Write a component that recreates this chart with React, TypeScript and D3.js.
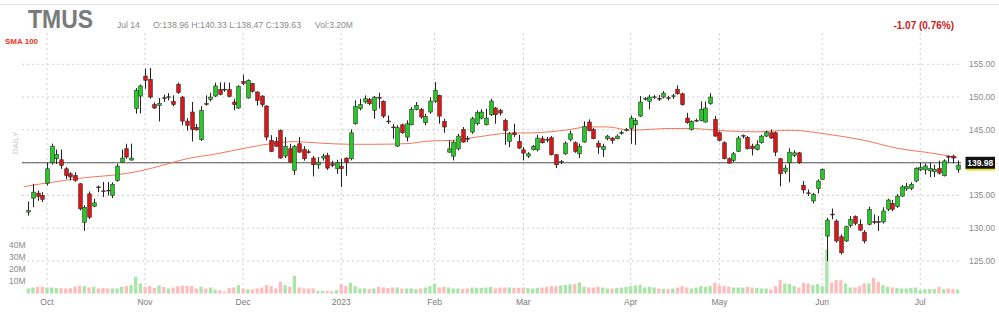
import React from 'react';
import * as d3 from 'd3';

const opens = [132.45,134.58,135.35,135.0,136.85,139.98,140.6,140.44,139.06,138.3,138.04,136.77,130.9,135.24,133.36,136.3,135.7,135.8,135.0,137.28,140.08,142.12,140.4,148.23,150.16,153.2,152.7,148.84,148.74,149.9,150.0,149.35,151.94,150.0,146.34,147.72,145.4,143.5,149.0,149.65,150.16,151.13,151.2,151.13,149.25,148.33,152.4,149.86,152.05,150.77,150.16,148.64,143.4,143.24,144.9,141.0,142.12,138.8,142.88,142.0,141.65,140.7,139.67,140.7,141.1,139.83,139.06,139.4,140.7,140.59,145.94,148.23,149.25,149.65,147.97,149.95,149.35,146.35,145.45,142.53,145.78,143.9,145.78,148.13,148.13,146.09,147.72,149.35,150.26,146.3,141.6,140.99,142.1,145.07,143.7,144.66,145.94,146.8,145.78,147.3,148.33,147.97,146.45,143.24,144.56,143.24,141.96,141.0,142.0,141.96,143.65,143.55,143.8,141.2,140.05,141.35,143.55,143.04,141.35,143.14,146.2,145.07,142.98,142.0,143.65,143.75,143.65,144.55,145.0,145.2,145.78,147.1,149.75,149.35,150.0,149.8,150.0,149.9,150.15,151.2,150.5,146.8,145.07,146.4,146.45,146.2,149.0,146.6,144.56,143.04,140.6,140.34,141.7,144.1,143.85,142.53,142.0,143.04,144.05,144.56,144.56,140.6,138.66,139.98,141.1,141.5,136.55,135.4,134.16,136.04,137.46,128.8,132.15,131.1,128.7,128.05,130.44,131.76,130.6,129.4,130.6,131.0,131.0,130.95,132.9,133.8,133.3,134.9,136.0,136.04,137.2,138.9,138.9,138.74,138.6,139.1,138.0,140.95,141.0,138.96];
const highs = [134.07,136.77,135.75,135.5,140.0,142.9,142.0,142.0,139.3,138.55,138.55,136.9,133.5,135.6,134.48,136.5,137.05,137.05,137.0,139.83,142.0,142.88,142.9,151.38,151.9,154.34,154.44,149.2,149.86,150.37,150.6,150.27,152.2,150.16,146.8,149.25,145.9,148.6,150.27,150.67,152.2,152.25,152.25,152.2,149.76,151.8,153.4,152.7,152.2,150.88,150.27,148.74,144.2,143.9,145.07,143.9,142.88,142.7,143.9,142.5,142.0,141.0,140.85,141.35,141.5,140.3,140.44,140.6,140.8,145.07,149.5,149.75,150.26,149.86,150.16,150.67,149.5,147.2,145.9,145.7,145.94,146.45,148.48,149.25,148.33,147.46,150.0,152.3,150.37,146.7,143.4,143.4,144.4,145.43,144.05,146.96,147.97,148.13,148.23,149.75,148.48,148.2,146.7,144.66,145.94,144.25,142.37,141.6,142.7,144.25,144.05,143.9,144.05,141.35,140.4,143.24,144.9,143.24,142.9,146.3,146.6,145.3,143.4,142.88,144.25,143.9,144.3,144.9,145.3,147.2,146.8,150.16,150.0,150.37,150.3,150.3,150.9,150.2,150.5,151.8,150.67,147.6,146.45,146.7,149.35,149.35,150.6,147.1,144.76,143.24,140.8,141.6,144.05,144.3,144.05,142.88,143.4,144.25,144.9,145.07,144.76,140.7,139.67,142.2,141.86,141.6,137.2,135.9,135.4,137.46,139.1,131.6,133.0,131.35,129.06,130.4,131.86,131.96,131.35,129.7,133.29,132.1,131.86,133.2,134.5,134.3,135.2,136.6,136.9,137.0,139.3,140.0,139.9,140.0,139.7,140.3,140.5,141.1,141.2,140.33];
const lows = [131.93,133.21,134.2,134.0,136.5,139.7,139.8,139.06,137.5,137.3,137.1,132.7,129.6,131.4,133.2,135.5,134.75,135.0,134.6,137.1,139.98,140.6,140.3,147.46,147.5,151.28,149.76,148.2,146.3,149.25,149.5,148.6,150.5,145.7,144.9,143.24,144.9,143.3,148.7,149.35,150.0,150.27,150.8,149.96,148.0,148.2,151.8,149.76,150.7,148.7,148.5,143.4,141.6,142.37,140.6,140.7,139.98,138.15,141.5,140.3,141.4,137.9,139.06,140.3,138.9,139.3,138.3,136.3,138.0,140.34,145.78,147.97,148.99,148.74,146.7,148.23,146.8,145.9,143.65,142.37,144.4,143.24,145.68,147.97,146.7,145.7,147.46,149.1,145.94,144.56,141.5,140.34,141.85,143.04,143.14,144.4,145.68,146.6,145.68,147.1,145.94,147.2,142.73,142.37,143.9,142.1,140.34,140.7,141.85,141.7,142.9,143.1,141.1,139.17,139.8,141.2,143.24,141.5,140.7,143.04,144.76,143.55,141.35,140.85,143.4,142.9,143.55,144.25,144.75,142.88,142.73,146.96,149.5,148.13,149.7,149.4,149.8,149.5,149.7,150.37,148.7,145.94,144.9,146.2,146.3,146.1,148.84,143.95,143.24,140.5,139.83,140.08,141.6,143.7,142.0,141.1,141.85,142.9,143.9,143.65,141.0,136.4,138.3,137.0,140.85,139.83,135.3,134.9,133.8,135.3,137.36,125.0,131.35,127.8,126.0,127.9,130.1,130.44,129.57,127.7,130.44,130.6,129.57,130.7,132.6,132.6,133.1,134.8,135.7,135.8,137.0,138.7,138.2,137.8,137.8,138.2,137.9,140.0,139.9,138.47];
const closes = [132.7,135.5,134.84,134.4,139.06,142.5,141.25,139.57,138.04,137.8,137.28,132.95,133.2,131.68,133.87,136.25,135.65,135.75,136.7,139.47,140.7,140.85,140.7,151.03,151.7,152.56,150.0,148.33,149.0,149.85,150.05,148.84,150.67,146.34,145.7,145.07,145.0,147.97,148.95,150.0,151.7,150.42,151.15,150.1,148.84,151.6,152.05,152.56,150.88,149.5,148.84,143.9,141.7,142.5,140.7,142.5,140.08,142.5,141.6,140.6,141.6,139.67,140.08,141.0,139.17,139.57,139.98,139.1,140.08,144.56,148.58,148.84,149.75,148.99,150.0,149.9,147.1,146.3,145.4,145.33,144.56,145.94,148.13,148.74,146.96,147.06,149.4,151.03,147.1,145.43,142.1,143.14,144.05,143.14,143.65,146.7,147.62,147.72,146.8,149.4,147.31,147.56,144.9,144.4,144.25,142.22,141.45,141.35,142.48,143.75,143.04,143.5,141.2,139.67,140.15,142.98,144.4,141.7,142.5,145.5,144.9,143.65,142.37,142.5,144.05,143.4,144.05,144.6,145.05,146.8,146.45,149.25,149.8,150.0,150.05,149.75,150.6,149.85,150.2,150.5,148.84,146.09,146.3,146.45,148.13,148.33,150.0,144.05,143.4,140.6,139.93,141.35,143.75,144.15,142.12,142.12,142.73,144.05,144.66,143.75,141.6,138.3,139.17,141.6,141.5,139.98,135.84,135.33,135.17,137.2,138.99,131.25,132.1,128.05,126.26,130.23,131.35,130.74,129.7,128.05,132.88,130.95,130.95,132.63,134.3,132.9,134.9,136.3,136.4,136.7,139.1,139.25,139.5,139.1,139.0,138.4,140.26,140.9,140.7,139.63];
const volumes = [4.1,4.9,5.5,5.5,4.9,4.9,4.6,4.4,4.1,4.4,5.5,6.3,6.0,4.9,5.5,4.1,4.6,4.1,4.1,4.1,5.5,6.0,6.8,13.7,8.2,5.5,6.0,4.6,6.5,5.5,4.1,4.9,6.0,6.5,6.3,6.0,4.1,5.5,4.1,4.9,3.3,2.7,1.4,4.6,4.9,6.8,4.1,3.3,3.3,4.1,4.9,6.8,6.0,4.1,9.6,6.8,5.5,14.5,4.9,4.1,4.1,4.1,2.2,2.2,2.2,1.9,2.7,7.7,6.0,8.7,6.0,4.1,4.1,3.6,4.1,5.5,4.9,4.4,4.9,4.9,4.1,4.1,4.1,3.6,4.1,4.9,6.0,7.7,4.9,5.5,4.9,4.1,4.1,3.6,4.1,4.9,4.6,4.6,4.9,5.5,4.1,4.9,4.9,4.9,4.6,4.6,4.9,4.6,4.1,4.6,4.9,5.5,6.0,6.0,6.6,7.1,7.4,7.7,9.0,5.5,4.9,4.9,5.5,4.9,4.1,4.1,4.6,4.9,5.5,6.0,6.6,7.1,4.9,5.5,4.9,4.1,3.8,3.6,4.1,4.9,6.0,4.9,4.1,4.9,6.0,5.5,6.0,8.7,6.6,6.0,5.5,4.9,4.9,4.9,5.5,4.9,4.6,4.1,4.1,3.3,6.0,10.9,8.2,7.7,6.0,4.9,8.7,8.2,6.8,7.7,6.0,36,9.0,10.9,10.9,8.2,4.9,4.9,6.0,8.2,8.2,12.8,9.6,6.8,5.5,4.9,4.6,4.1,4.1,4.6,4.9,2.7,3.6,3.6,3.6,5.5,3.6,4.1,3.6,3.2];

const smaIdx = [-1,0,5,12,20,24,28,31,34,40,47,52,57,62,69,74,81,86,91,96,103,108,115,120,124,129,137,142,149,156,163,171,179,186,193,199];
const smaVal = [136.3,136.45,137.0,137.7,138.25,138.75,139.45,140.05,140.6,141.3,142.3,142.9,143.2,143.0,142.8,142.8,142.9,143.3,143.4,143.9,144.5,144.55,144.95,145.45,145.45,144.95,145.2,145.2,144.85,144.7,144.95,144.35,143.4,142.2,141.5,140.8];

const monthLabels = ['Oct', 'Nov', 'Dec', '2023', 'Feb', 'Mar', 'Apr', 'May', 'Jun', 'Jul'];
const monthStartIdx = [4, 25, 46, 67, 87, 106, 129, 148, 170, 191];
const priceTicks = [125, 130, 135, 140, 145, 150, 155];
const volumeTicks = [10, 20, 30, 40];
const markerPrice = 139.98;

const FONT = "'Liberation Sans', Arial, sans-serif";

export default function App() {
  const n = closes.length;
  const x = d3.scaleLinear().domain([0, n - 1]).range([28.3, 957.6]);
  const y = d3.scaleLinear().domain([125, 155]).range([261, 64.3]);
  const yv = d3.scaleLinear().domain([0, 40]).range([293.5, 244.5]);
  const plotL = 22, plotR = 961;
  const bodyW = 3.6, volW = 3.3;

  const smaLine = d3.line<number>()
    .x((_, i) => x(smaIdx[i]))
    .y((v) => y(v))
    .curve(d3.curveMonotoneX);

  return (
    <svg width={999} height={312} style={{ position: 'absolute', left: 0, top: 0, background: '#fff' }} fontFamily={FONT}>
      <defs>
        <clipPath id="plotClip">
          <rect x={plotL} y={30} width={plotR - plotL} height={265} />
        </clipPath>
      </defs>
      <rect x={0} y={0} width={999} height={312} fill="#fff" />
      <line x1={0} x2={999} y1={4.5} y2={4.5} stroke="#e4e4e4" />

      {/* header */}
      <text x={28} y={28} fontSize={25} fontWeight="bold" fill="#7a7a7a" textLength={65} lengthAdjust="spacingAndGlyphs">TMUS</text>
      <text x={117} y={27.5} fontSize={8.5} fill="#8a8a8a">Jul 14</text>
      <text x={153} y={27.5} fontSize={8.5} fill="#8a8a8a" textLength={148} lengthAdjust="spacingAndGlyphs">O:138.96  H:140.33  L:138.47  C:139.63</text>
      <text x={315} y={27.5} fontSize={8.5} fill="#8a8a8a">Vol:3.20M</text>
      <text x={954} y={28.5} fontSize={10} fontWeight="bold" fill="#cc1a1a" textAnchor="end">-1.07 (0.76%)</text>
      <text x={5} y={43.5} fontSize={8} fontWeight="bold" fill="#ee3322">SMA 100</text>
      <text transform="translate(18,143) rotate(-90)" fontSize={8} fill="#c8c8c8" textAnchor="middle">DAILY</text>

      {/* grid */}
      {priceTicks.map((p) => (
        <line key={'h' + p} x1={plotL} x2={plotR - 2} y1={y(p)} y2={y(p)} stroke="#cfcfcf" strokeDasharray="2,3" />
      ))}
      {monthStartIdx.map((idx, k) => (
        <line key={'v' + k} x1={x(idx)} x2={x(idx)} y1={33} y2={294} stroke="#cfcfcf" strokeDasharray="2,3" />
      ))}

      {/* volume */}
      <g clipPath="url(#plotClip)">
        {volumes.map((v, i) => (
          <rect key={'vol' + i} x={x(i) - volW / 2} y={yv(v)} width={volW} height={yv(0) - yv(v)}
            fill={closes[i] >= opens[i] ? '#a9e4a9' : '#ffbcbc'} />
        ))}
      </g>
      {volumeTicks.map((t) => (
        <text key={'vt' + t} x={9} y={yv(t) + 3} fontSize={8.5} fill="#8a8a8a">{t}M</text>
      ))}

      {/* marker line */}
      <line x1={plotL} x2={plotR} y1={y(markerPrice)} y2={y(markerPrice)} stroke="#555" strokeWidth={1} />

      {/* SMA */}
      <g clipPath="url(#plotClip)">
        <path d={smaLine(smaVal) || ''} fill="none" stroke="#f2785a" strokeWidth={1} />
      </g>

      {/* candles */}
      <g clipPath="url(#plotClip)">
        {closes.map((c, i) => {
          const o = opens[i];
          const up = c >= o;
          const top = y(Math.max(o, c));
          const bot = y(Math.min(o, c));
          const h = Math.max(bot - top, 0.8);
          const cx = Math.round(x(i)) + 0.5;
          return (
            <g key={'c' + i}>
              <line x1={cx} x2={cx} y1={y(highs[i])} y2={y(lows[i])} stroke="#222" strokeWidth={1} />
              <rect x={cx - bodyW / 2} y={top} width={bodyW} height={h}
                fill={up ? '#22cc22' : '#e01414'} stroke="#2a2a2a" strokeWidth={0.6} />
            </g>
          );
        })}
      </g>

      {/* price axis labels */}
      {priceTicks.map((p) => (
        <text key={'pt' + p} x={969} y={y(p) + 3} fontSize={8.5} fill="#8a8a8a">{p.toFixed(2)}</text>
      ))}
      <rect x={965.5} y={y(markerPrice) - 6} width={29.5} height={12} fill="#111" />
      <line x1={965.5} x2={995} y1={y(markerPrice) + 7} y2={y(markerPrice) + 7} stroke="#f2e600" strokeWidth={1.5} />
      <text x={980.2} y={y(markerPrice) + 3.2} fontSize={8.5} fontWeight="bold" fill="#fff" textAnchor="middle">{markerPrice.toFixed(2)}</text>

      {/* month labels */}
      {monthStartIdx.map((idx, k) => (
        <text key={'m' + k} x={x(idx)} y={305} fontSize={8.5} fill="#7a7a7a" textAnchor="middle">{monthLabels[k]}</text>
      ))}
    </svg>
  );
}
